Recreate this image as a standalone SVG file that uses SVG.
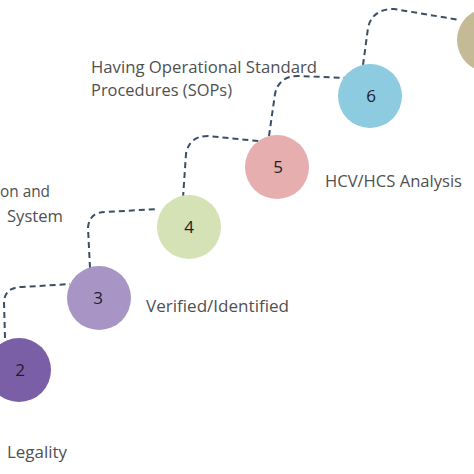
<svg xmlns="http://www.w3.org/2000/svg" width="474" height="474" viewBox="0 0 474 474">
<style>
.lbl{font-family:"Open Sans","Liberation Sans",sans-serif;font-size:16px;fill:#505050}
.num{font-family:"Open Sans","Liberation Sans",sans-serif;font-size:17px;fill:#1e1e2a;text-anchor:middle}
.con{fill:none;stroke:#3a4e66;stroke-width:2;stroke-dasharray:6 4}
</style>
<rect width="474" height="474" fill="#ffffff"/>
<g id="connectors">
<path class="con" d="M5,338 L4,302 Q5,287 22,287 L70,284"/>
<path class="con" d="M90,268 L88,228 Q89,212 106,212 L158,209"/>
<path class="con" d="M183,198 L186,154 Q189,136 208,136 L267,142"/>
<path class="con" d="M269,136 L275,94 Q279,76 298,76 L348,78"/>
<path class="con" d="M363,65 L368,28 Q372,9 394,9 L460,20"/>
</g>
<g id="node2"><circle cx="19" cy="370" r="32" fill="#7b5fa6"/><text class="num" x="20" y="376">2</text></g>
<g id="node3"><circle cx="99" cy="298" r="32" fill="#a895c6"/><text class="num" x="98" y="304">3</text></g>
<g id="node4"><circle cx="189" cy="227" r="32" fill="#d4e2b6"/><text class="num" x="189" y="233">4</text></g>
<g id="node5"><circle cx="277" cy="167" r="32" fill="#e6aeae"/><text class="num" x="278" y="173">5</text></g>
<g id="node6"><circle cx="370" cy="96" r="32" fill="#8ccbe0"/><text class="num" x="371" y="102">6</text></g>
<g id="node7"><circle cx="489" cy="40" r="32" fill="#c4ba95"/></g>
<g id="labels">
<text class="lbl" x="91" y="73" textLength="226" lengthAdjust="spacingAndGlyphs">Having Operational Standard</text>
<text class="lbl" x="91" y="96" textLength="141" lengthAdjust="spacingAndGlyphs">Procedures (SOPs)</text>
<text class="lbl" x="325" y="187" textLength="137" lengthAdjust="spacingAndGlyphs">HCV/HCS Analysis</text>
<text class="lbl" x="0" y="197" textLength="50" lengthAdjust="spacingAndGlyphs">on and</text>
<text class="lbl" x="7" y="222" textLength="56" lengthAdjust="spacingAndGlyphs">System</text>
<text class="lbl" x="146" y="312" textLength="143" lengthAdjust="spacingAndGlyphs">Verified/Identified</text>
<text class="lbl" x="7" y="458" textLength="60" lengthAdjust="spacingAndGlyphs">Legality</text>
</g>
</svg>
